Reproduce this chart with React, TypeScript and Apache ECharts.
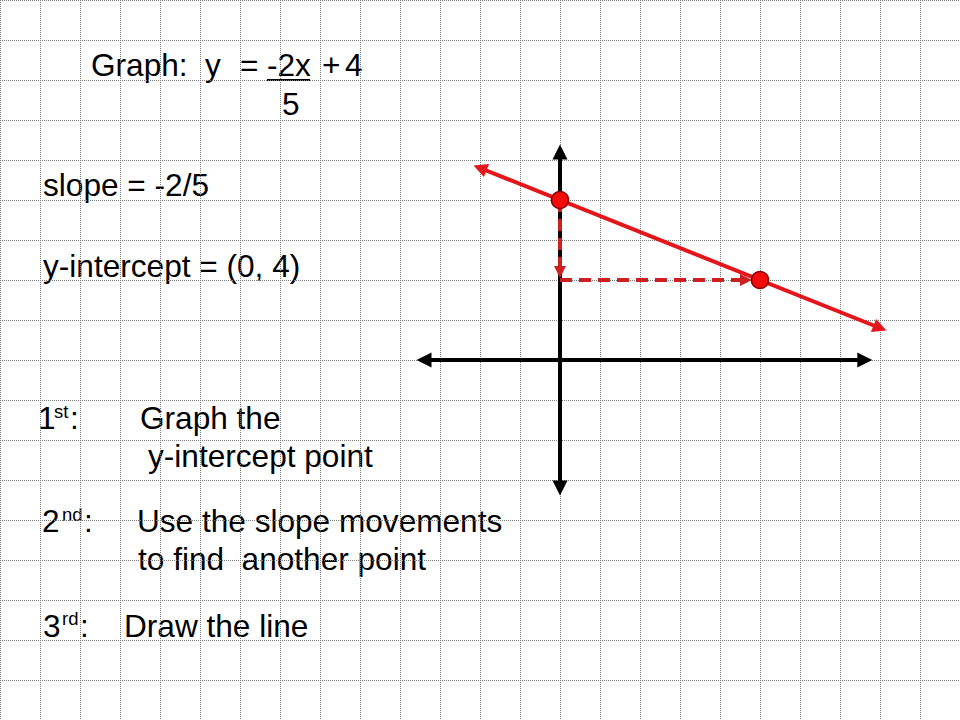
import * as echarts from 'echarts';
import React, { useEffect, useRef } from 'react';

// grid paper: one square is one unit (40px)
const xRange = [-14, 10];
const yRange = [-9, 9];

// coordinate axes, arrow centres at both ends
const xAxisEnds = [-3.4, 7.62];
const yAxisEnds = [5.2, -3.2];

// the graphed line y = -2/5 x + 4
const lineX = [-2.0, 8.0];
const lineY = [4.8, 0.8];

// y-intercept and the second point
const pointX = [0, 5];
const pointY = [4, 2];

// slope movements: down 2, right 5
const riseX = [0, 0];
const riseY = [4, 2.2];
const runX = [0, 4.65];
const runY = [2, 2];

// texts
const equation = ['Graph:', 'y', '=', '-2x', '+', '4', '5'];
const notes = ['slope = -2/5', 'y-intercept = (0, 4)'];
const stepNums = ['1', '2', '3'];
const stepSups = ['st', 'nd', 'rd'];
const stepTexts = [
  ['Graph the', 'y-intercept point'],
  ['Use the slope movements', 'to find  another point'],
  ['Draw the line'],
];

const FONT = '"Liberation Sans", Arial, Helvetica, sans-serif';
const SIZE = 31.6;

// text placed by its baseline
const txt = (text: string, x: number, baseline: number, size = SIZE) => ({
  type: 'text',
  x,
  y: baseline - size * 0.35,
  silent: true,
  style: {
    text,
    fill: '#000',
    font: `${size}px ${FONT}`,
    align: 'left',
    verticalAlign: 'middle',
  },
});

const App = () => {
  const chartRef = useRef<HTMLDivElement>(null);

  useEffect(() => {
    if (!chartRef.current) return;
    const chart = echarts.init(chartRef.current, null, { renderer: 'svg' });

    const graphic = [
      txt(equation[0], 91, 76),
      txt(equation[1], 205, 76),
      txt(equation[2], 240, 76),
      txt(equation[3], 267, 76),
      txt(equation[4], 322, 76),
      txt(equation[5], 345, 76),
      txt(equation[6], 282, 115),
      {
        type: 'line',
        silent: true,
        shape: { x1: 267, y1: 80, x2: 310, y2: 80 },
        style: { stroke: '#000', lineWidth: 2 },
      },
      txt(notes[0], 43, 196),
      txt(notes[1], 43, 277),
      // 1st
      txt(stepNums[0], 38, 429),
      txt(stepSups[0], 54, 418, 18.5),
      txt(':', 70, 429),
      txt(stepTexts[0][0], 140, 429),
      txt(stepTexts[0][1], 148, 467),
      // 2nd
      txt(stepNums[1], 42, 532),
      txt(stepSups[1], 62, 521, 18.5),
      txt(':', 84, 532),
      txt(stepTexts[1][0], 137, 532),
      txt(stepTexts[1][1], 138, 570),
      // 3rd
      txt(stepNums[2], 43, 637),
      txt(stepSups[2], 62, 625, 18.5),
      txt(':', 80, 637),
      txt(stepTexts[2][0], 124, 637),
    ];

    const option = {
      animation: false,
      backgroundColor: '#fff',
      grid: { left: 0, right: 0, top: 0, bottom: 0, show: false },
      xAxis: {
        type: 'value',
        min: xRange[0],
        max: xRange[1],
        interval: 1,
        axisLine: { show: false },
        axisTick: { show: false },
        axisLabel: { show: false },
        splitLine: { show: true, lineStyle: { color: '#7a7a7a', type: 'dotted', width: 1 } },
      },
      yAxis: {
        type: 'value',
        min: yRange[0],
        max: yRange[1],
        interval: 1,
        axisLine: { show: false },
        axisTick: { show: false },
        axisLabel: { show: false },
        splitLine: { show: true, lineStyle: { color: '#7a7a7a', type: 'dotted', width: 1 } },
      },
      series: [
        {
          // black coordinate axes
          type: 'lines',
          coordinateSystem: 'cartesian2d',
          z: 2,
          silent: true,
          symbol: ['triangle', 'triangle'],
          symbolSize: 15,
          lineStyle: { color: '#000', width: 4, opacity: 1, curveness: 0 },
          data: [
            { coords: [[xAxisEnds[0], 0], [xAxisEnds[1], 0]] },
            { coords: [[0, yAxisEnds[0]], [0, yAxisEnds[1]]] },
          ],
        },
        {
          // the graphed line
          type: 'lines',
          coordinateSystem: 'cartesian2d',
          z: 3,
          silent: true,
          symbol: ['triangle', 'triangle'],
          symbolSize: 14,
          lineStyle: { color: '#e5161b', width: 4, opacity: 1, curveness: 0 },
          data: [{ coords: [[lineX[0], lineY[0]], [lineX[1], lineY[1]]] }],
        },
        {
          // slope movements
          type: 'lines',
          coordinateSystem: 'cartesian2d',
          z: 4,
          silent: true,
          symbol: ['none', 'triangle'],
          symbolSize: 12,
          lineStyle: { color: '#cc1f1f', width: 4, opacity: 1, type: [12, 7], curveness: 0 },
          data: [
            { coords: [[riseX[0], riseY[0]], [riseX[1], riseY[1]]] },
            { coords: [[runX[0], runY[0]], [runX[1], runY[1]]] },
          ],
        },
        {
          type: 'scatter',
          z: 5,
          silent: true,
          symbol: 'circle',
          symbolSize: 17,
          itemStyle: { color: '#f50a0a', borderColor: '#8b0000', borderWidth: 1.5, opacity: 1 },
          data: pointX.map((x, i) => [x, pointY[i]]),
        },
      ],
      graphic,
    };

    chart.setOption(option);

    return () => {
      chart.dispose();
    };
  }, []);

  return (
    <div
      ref={chartRef}
      style={{ position: 'fixed', left: 0, top: 0, width: 960, height: 720, background: '#fff' }}
    ></div>
  );
};

export default App;
